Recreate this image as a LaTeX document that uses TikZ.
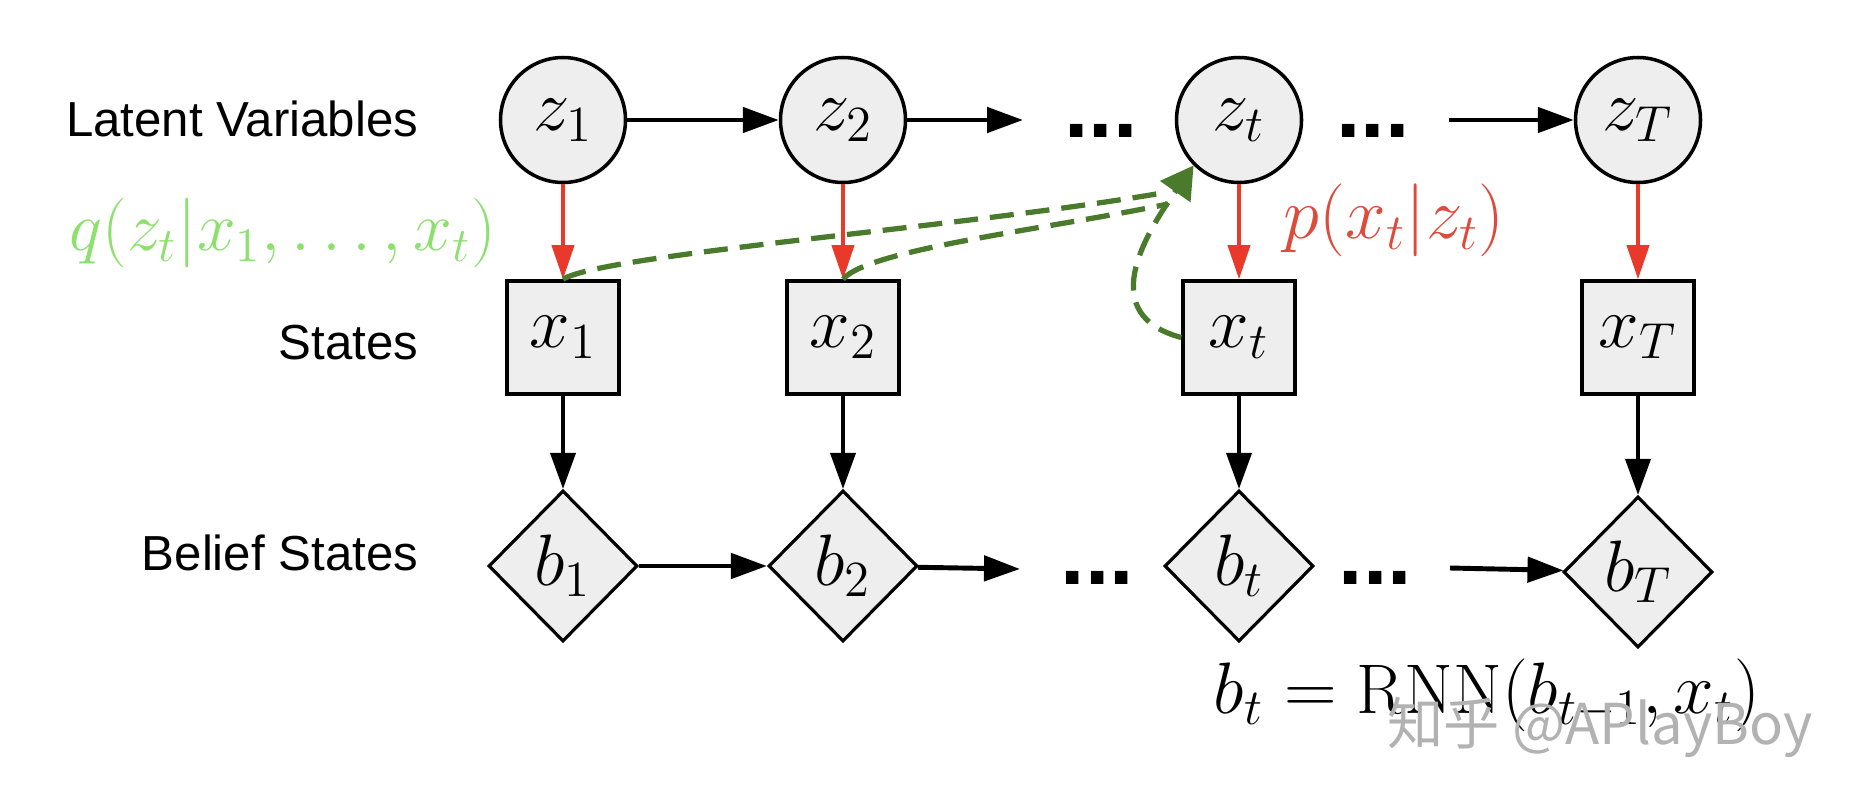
\documentclass[tikz,border=0pt]{standalone}
\usepackage{fontspec}
\setsansfont{Liberation Sans}
\newfontfamily\cjkfont{Noto Sans CJK SC}
\usepackage{amsmath}
\usepackage{graphicx}
\usetikzlibrary{positioning, arrows.meta, shapes.geometric}
\definecolor{nodegray}{HTML}{EEEEEE}
\definecolor{emitred}{HTML}{E8392A}
\definecolor{probred}{HTML}{DC4B3C}
\definecolor{infergreen}{HTML}{4A7A2C}
\definecolor{postgreen}{HTML}{8EE06E}

\begin{document}
\begin{tikzpicture}[auto, on grid, line width=1.1pt,
    latent/.style={circle, draw=black, fill=nodegray, line width=1pt, minimum size=1.25cm, inner sep=0pt, font=\fontsize{20}{24}\selectfont},
    observed/.style={rectangle, draw=black, fill=nodegray, line width=1pt, minimum width=1.12cm, minimum height=1.13cm, inner sep=0pt, font=\fontsize{20}{24}\selectfont},
    belief/.style={diamond, draw=black, fill=nodegray, line width=0.9pt, minimum width=1.49cm, minimum height=1.51cm, inner sep=0pt, font=\fontsize{20}{24}\selectfont},
    rowlabel/.style={anchor=east, inner sep=0pt, font=\sffamily\fontsize{14}{17}\selectfont},
    gap/.style={inner sep=0pt, font=\sffamily\bfseries\fontsize{25}{30}\selectfont},
    formula/.style={anchor=west, inner sep=0pt, font=\fontsize{20}{24}\selectfont},
    chain/.style={-{Triangle[length=0.36cm, width=0.25cm]}, line width=1.4pt},
    emit/.style={-{Triangle[length=0.34cm, width=0.22cm]}, draw=emitred, line width=1.1pt},
    feed/.style={-{Triangle[length=0.36cm, width=0.25cm]}, line width=1.1pt},
    infer/.style={draw=infergreen, line width=1.5pt, dash pattern=on 0.24cm off 0.12cm},
    infertip/.style={infer, -{Triangle[length=0.32cm, width=0.36cm]}}]
      \useasboundingbox (0,0) rectangle (18.56,-8.08);

      \node[latent] (z1) at (5.63,-1.20) {$z_1$};
      \node[latent, right= 2.8cm of z1] (z2) {$z_2$};
      \node[latent, right= 3.96cm of z2] (zt) {$z_t$};
      \node[latent, right= 3.99cm of zt] (zT) {$z_T$};
      \node[observed, below= 2.175cm of z1] (x1) {$x_1$};
      \node[observed, below= 2.175cm of z2] (x2) {$x_2$};
      \node[observed, below= 2.175cm of zt] (xt) {$x_t$};
      \node[observed, below= 2.175cm of zT] (xT) {$x_T$};
      \node[belief, below= 2.285cm of x1] (b1) {$b_1$};
      \node[belief, below= 2.285cm of x2] (b2) {$b_2$};
      \node[belief, below= 2.285cm of xt] (bt) {$b_t$};
      \node[belief, below= 2.345cm of xT] (bT) {$b_T$};

      \node[rowlabel] (latentlabel) at (4.20,-1.185) {Latent Variables};
      \node[rowlabel] (statelabel) at (4.20,-3.43) {States};
      \node[rowlabel] (belieflabel) at (4.20,-5.525) {Belief States};

      \node[gap] (zgap1) at (11.01,-1.31) {...};
      \node[gap] (zgap2) at (13.73,-1.31) {...};
      \node[gap] (bgap1) at (10.975,-5.78) {...};
      \node[gap] (bgap2) at (13.755,-5.78) {...};

      \coordinate (zout) at (10.23,-1.20);
      \coordinate (zin) at (14.49,-1.20);
      \coordinate (bout) at (10.20,-5.69);
      \coordinate (bin) at (14.50,-5.68);
      \coordinate (merge1) at (11.68,-1.92);
      \coordinate (merge2) at (11.68,-2.04);

      \node[formula, text=postgreen] (qlabel) at (0.68,-2.335) {\scalebox{0.955}{$q(z_t|x_1,\ldots,x_t)$}};
      \node[formula, text=probred] (plabel) at (12.82,-2.20) {$p(x_t|z_t)$};
      \node[formula] (rnnlabel) at (12.12,-6.955) {$b_t=\mathrm{RNN}(b_{t-1},x_t)$};
      \node[inner sep=0pt, text=black!30, font=\cjkfont\fontsize{16}{19}\selectfont] (mark) at (16.0,-7.27) {知乎 @APlayBoy};

      \draw[chain] (z1) -- (z2);
      \draw[chain] (z2) -- (zout);
      \draw[chain] (zin) -- (zT);
      \draw[chain] (b1) -- (b2);
      \draw[chain] (b2) -- (bout);
      \draw[chain] (bin) -- (bT);
      \foreach \i in {1,2,t,T} {
        \draw[emit] (z\i) -- (x\i);
        \draw[feed] (x\i) -- (b\i);
      }

      \draw[infer] (x1.north) .. controls +(0.4,0.25) and +(-2.0,-0.35) .. (merge1);
      \draw[infer] (x2.north) .. controls +(0.25,0.30) and +(-1.2,-0.25) .. (merge2);
      \draw[infertip] (xt.west) to[out=165, in=235, looseness=1.3] (zt.south west);
    \end{tikzpicture}
\end{document}
